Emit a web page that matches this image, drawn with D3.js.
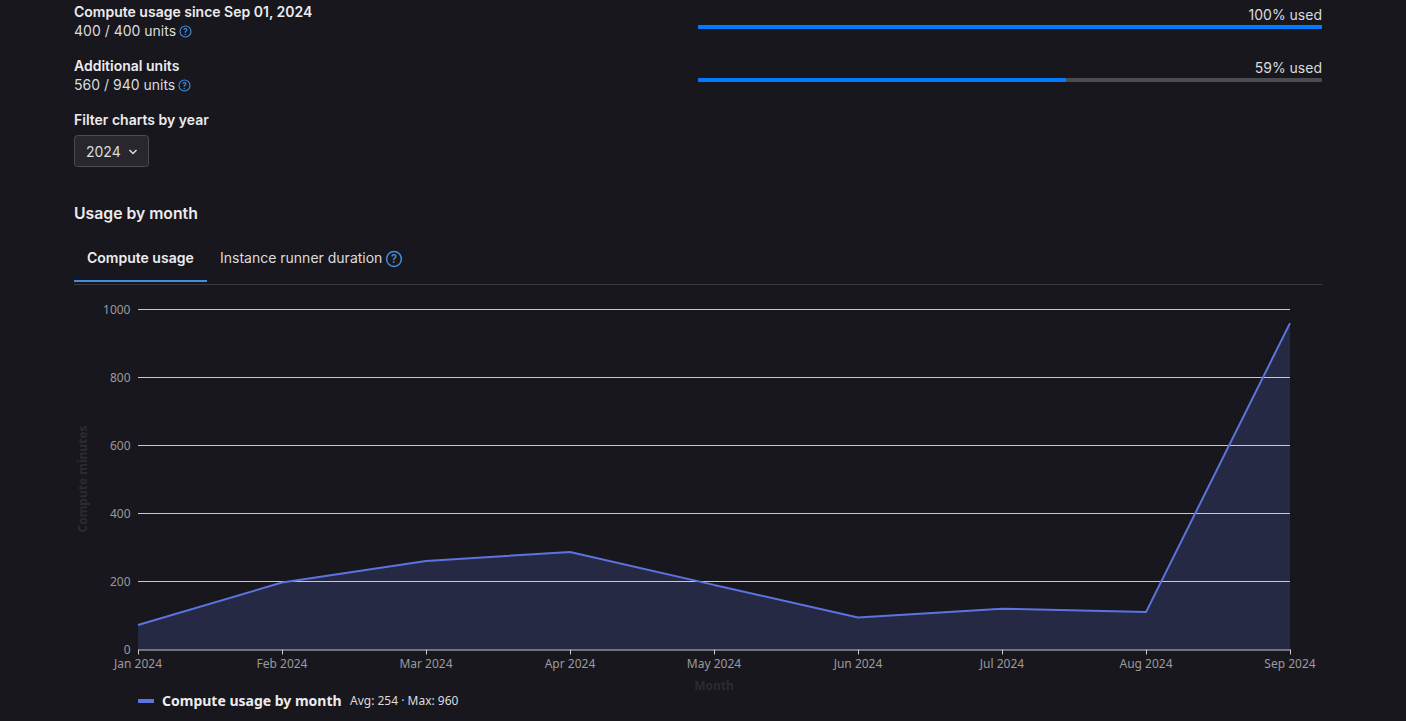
<!DOCTYPE html>
<html><head><meta charset="utf-8">
<script src="https://cdn.jsdelivr.net/npm/d3@7/dist/d3.min.js"></script>
<style>
html,body{margin:0;padding:0;background:#18171d;overflow:hidden}
svg{display:block}
</style></head><body><svg id="c" width="1406" height="721"></svg>
<script>
const months=["Jan 2024","Feb 2024","Mar 2024","Apr 2024","May 2024","Jun 2024","Jul 2024","Aug 2024","Sep 2024"];
const usage=[72,197,260,287,190,94,120,110,960];
const yTicks=[0,200,400,600,800,1000];
const seriesName="Compute usage by month";
const statsLabel="Avg: 254 · Max: 960";
const quota=[{title:"Compute usage since Sep 01, 2024",sub:"400 / 400 units",pct:100,label:"100% used"},{title:"Additional units",sub:"560 / 940 units",pct:59,label:"59% used"}];

const svg=d3.select("#c");
const INTER="Inter,sans-serif",NOTO="'Noto Sans',sans-serif";
const txt=(x,y,s,size,weight,fill,font,anchor)=>svg.append("text").attr("x",x).attr("y",y).text(s)
  .attr("font-size",size).attr("font-weight",weight).attr("fill",fill).attr("font-family",font||INTER).attr("text-anchor",anchor||"start");
const help=(cx,cy,r)=>{
  const g=svg.append("g").attr("transform",`translate(${cx},${cy})`);
  g.append("circle").attr("r",r).attr("fill","none").attr("stroke","#428fdc").attr("stroke-width",r>6?1.5:1.1);
  g.append("text").attr("y",r*0.55).attr("text-anchor","middle").attr("font-size",r*1.5).attr("font-weight",600).attr("font-family",INTER).attr("fill","#428fdc").text("?");
};

// quota rows
const rowY=[0,54],barY=[27,80],labelY=[20,73];
const bar=d3.scaleLinear().domain([0,100]).range([698,1322]);
quota.forEach((q,i)=>{
  txt(74,17+rowY[i],q.title,14,600,"#ececef");
  txt(74,36+rowY[i],q.sub,14,400,"#dcdcde");
  help(i==0?185.5:184.5,31.5+rowY[i],5.5);
  txt(1322,labelY[i],q.label,14,400,"#dcdcde",INTER,"end");
  svg.append("rect").attr("x",bar(0)).attr("y",barY[i]-2).attr("width",bar(100)-bar(0)).attr("height",4).attr("rx",1).attr("fill","#4c4b51");
  svg.append("rect").attr("x",bar(0)).attr("y",barY[i]-2).attr("width",bar(q.pct)-bar(0)).attr("height",4).attr("rx",1).attr("fill","#007bff");
});

// filter
txt(74,125,"Filter charts by year",14,600,"#ececef");
svg.append("rect").attr("x",74.5).attr("y",135.5).attr("width",74).attr("height",31).attr("rx",3).attr("fill","#28272d").attr("stroke","#4c4b51");
txt(86,157,"2024",14,400,"#dcdcde");
svg.append("path").attr("d","M129.5 150l3.5 3.5 3.5-3.5").attr("fill","none").attr("stroke","#dcdcde").attr("stroke-width",1.5);

// section + tabs
txt(74,219,"Usage by month",15.75,600,"#ececef");
txt(87,263,"Compute usage",14,600,"#ececef");
txt(220,263,"Instance runner duration",14,400,"#dcdcde");
help(394,259,7.4);
svg.append("line").attr("x1",74).attr("x2",1322).attr("y1",284.5).attr("y2",284.5).attr("stroke","#3a393f");
svg.append("rect").attr("x",74).attr("y",280).attr("width",133).attr("height",2).attr("fill","#428fdc");

// chart
const x=d3.scalePoint().domain(months).range([138,1290]);
const y=d3.scaleLinear().domain([0,1000]).range([649.5,309.5]);
svg.append("path").datum(usage).attr("fill","#5c73e0").attr("fill-opacity",0.2)
  .attr("d",d3.area().x((d,i)=>x(months[i])).y0(y(0)).y1(d=>y(d)));
const yAxis=d3.axisLeft(y).tickValues(yTicks).tickSize(0).tickPadding(8).tickFormat(d3.format("d"));
const gy=svg.append("g").attr("transform","translate(138.5,0)").call(yAxis);
gy.select(".domain").remove();
gy.selectAll("text").attr("font-family",NOTO).attr("font-size",12).attr("fill","#9a9a9f");
svg.append("g").selectAll("line").data(yTicks.filter(d=>d>0)).join("line")
  .attr("x1",138).attr("x2",1290).attr("y1",d=>y(d)).attr("y2",d=>y(d)).attr("stroke","#c9c9cc");
const xAxis=d3.axisBottom(x).tickSize(5).tickSizeOuter(0).tickPadding(5);
const gx=svg.append("g").attr("transform","translate(0,649.5)").call(xAxis);
gx.select(".domain").attr("stroke","#c9c9cc");
gx.selectAll("line").attr("stroke","#c9c9cc");
gx.selectAll("text").attr("font-family",NOTO).attr("font-size",12).attr("fill","#9a9a9f").attr("dx",-0.5);
svg.append("path").datum(usage).attr("fill","none").attr("stroke","#5c73e0").attr("stroke-width",2).attr("stroke-linejoin","bevel")
  .attr("d",d3.line().x((d,i)=>x(months[i])).y(d=>y(d)));

// axis titles
svg.append("text").attr("transform","translate(87,479) rotate(-90)").attr("text-anchor","middle").attr("font-family",NOTO).attr("font-size",12).attr("font-weight",700).attr("fill","#2c2b31").text("Compute minutes");
txt(714,690,"Month",12,700,"#2c2b31",NOTO,"middle");

// legend
svg.append("rect").attr("x",138).attr("y",699).attr("width",16).attr("height",4).attr("fill","#5c73e0");
txt(162,706,seriesName,14,700,"#ececef",NOTO);
txt(350,705,statsLabel,12,400,"#dcdcde",NOTO);
</script></body></html>
